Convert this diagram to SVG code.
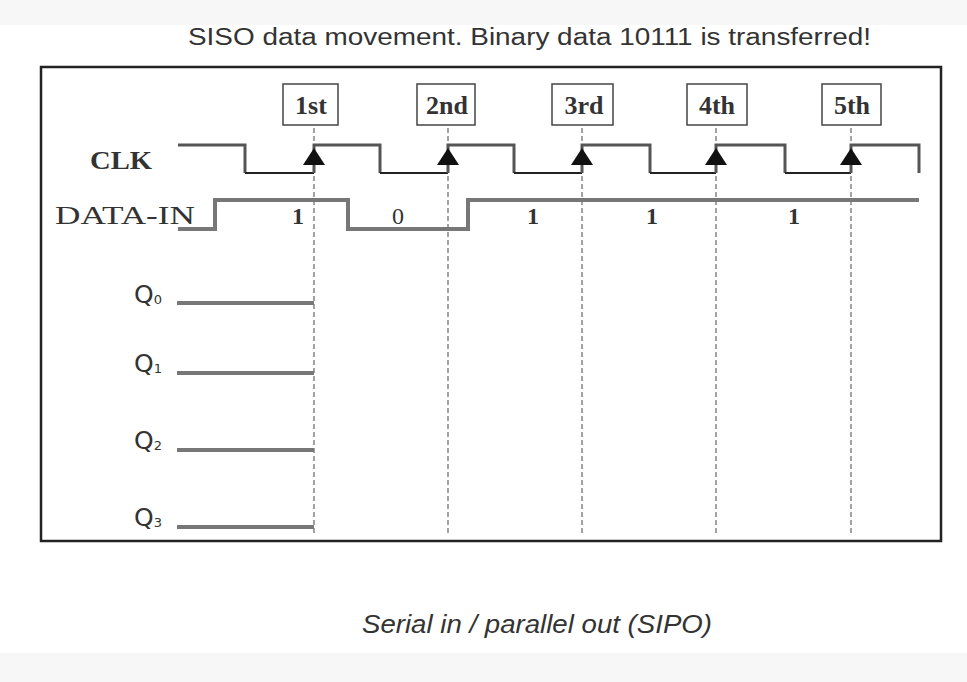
<svg xmlns="http://www.w3.org/2000/svg" width="967" height="682" viewBox="0 0 967 682">
<style>
.serif{font-family:"Liberation Serif","Times New Roman",serif;fill:#333}
.lbl{font-size:26px;font-weight:bold}
.sans{font-family:"Liberation Sans",Arial,sans-serif;fill:#333}
.qs{font-family:"DejaVu Sans",Verdana,sans-serif;fill:#333}
.clk{fill:none;stroke:#555;stroke-width:3}
.clklow{fill:none;stroke:#222;stroke-width:2}
.data{fill:none;stroke:#777;stroke-width:4}
.q{stroke:#777;stroke-width:4}
.dash{stroke:#666;stroke-width:1.2;stroke-dasharray:5 3}
.box{fill:#fff;stroke:#444;stroke-width:1.5}
.arr{fill:#111}
</style>
<rect width="967" height="682" fill="#fff"/>
<rect x="0" y="0" width="967" height="25" fill="#f7f7f7"/>
<rect x="0" y="653" width="967" height="29" fill="#f7f7f7"/>
<text class="sans" x="188" y="45" font-size="23" textLength="683" lengthAdjust="spacingAndGlyphs">SISO data movement. Binary data 10111 is transferred!</text>
<rect x="41" y="67" width="900" height="474" fill="#fff" stroke="#222" stroke-width="2.5"/>
<g id="connectors">
<line class="dash" x1="314" y1="128" x2="314" y2="533"/>
<line class="dash" x1="448" y1="128" x2="448" y2="533"/>
<line class="dash" x1="582" y1="128" x2="582" y2="533"/>
<line class="dash" x1="716" y1="128" x2="716" y2="533"/>
<line class="dash" x1="851" y1="128" x2="851" y2="533"/>
</g>
<g id="clk">
<text class="serif" x="90" y="169" font-size="25" font-weight="bold" textLength="62" lengthAdjust="spacingAndGlyphs">CLK</text>
<polyline class="clk" points="178,145 245,145 245,173"/>
<polyline class="clklow" points="245,173 314,173"/>
<polyline class="clk" points="314,173 314,145 380,145 380,173"/>
<polyline class="clklow" points="380,173 448,173"/>
<polyline class="clk" points="448,173 448,145 514,145 514,173"/>
<polyline class="clklow" points="514,173 582,173"/>
<polyline class="clk" points="582,173 582,145 650,145 650,173"/>
<polyline class="clklow" points="650,173 716,173"/>
<polyline class="clk" points="716,173 716,145 785,145 785,173"/>
<polyline class="clklow" points="785,173 851,173"/>
<polyline class="clk" points="851,173 851,145 919,145 919,173"/>
<polygon class="arr" points="314,148 303,165 325,165"/>
<polygon class="arr" points="448,148 437,165 459,165"/>
<polygon class="arr" points="582,148 571,165 593,165"/>
<polygon class="arr" points="716,148 705,165 727,165"/>
<polygon class="arr" points="851,148 840,165 862,165"/>
</g>
<g id="data-in">
<text class="serif" x="55" y="224" font-size="26" textLength="140" lengthAdjust="spacingAndGlyphs">DATA-IN</text>
<polyline class="data" points="178,229 215,229 215,200 348,200 348,229 468,229 468,200 919,200"/>
<text class="serif" x="298" y="224" font-size="24" font-weight="bold" text-anchor="middle">1</text>
<text class="serif" x="398" y="224" font-size="24" text-anchor="middle">0</text>
<text class="serif" x="533" y="224" font-size="24" font-weight="bold" text-anchor="middle">1</text>
<text class="serif" x="652" y="224" font-size="24" font-weight="bold" text-anchor="middle">1</text>
<text class="serif" x="794" y="224" font-size="24" font-weight="bold" text-anchor="middle">1</text>
</g>
<g id="pulse1"><rect class="box" x="283" y="84" width="55" height="41"/><text class="serif lbl" x="311" y="114" text-anchor="middle">1st</text></g>
<g id="pulse2"><rect class="box" x="417" y="84" width="58" height="41"/><text class="serif lbl" x="447" y="114" text-anchor="middle">2nd</text></g>
<g id="pulse3"><rect class="box" x="552" y="84" width="61" height="41"/><text class="serif lbl" x="584" y="114" text-anchor="middle">3rd</text></g>
<g id="pulse4"><rect class="box" x="687" y="84" width="60" height="41"/><text class="serif lbl" x="717" y="114" text-anchor="middle">4th</text></g>
<g id="pulse5"><rect class="box" x="822" y="84" width="59" height="41"/><text class="serif lbl" x="852" y="114" text-anchor="middle">5th</text></g>
<g id="q0"><text class="qs" x="134" y="303" font-size="25">Q<tspan font-size="13" dy="1">0</tspan></text><line class="q" x1="177" y1="303" x2="314" y2="303"/></g>
<g id="q1"><text class="qs" x="134" y="372" font-size="25">Q<tspan font-size="13" dy="1">1</tspan></text><line class="q" x1="177" y1="373" x2="314" y2="373"/></g>
<g id="q2"><text class="qs" x="134" y="449" font-size="25">Q<tspan font-size="13" dy="1">2</tspan></text><line class="q" x1="177" y1="450" x2="314" y2="450"/></g>
<g id="q3"><text class="qs" x="134" y="526" font-size="25">Q<tspan font-size="13" dy="1">3</tspan></text><line class="q" x1="177" y1="527" x2="314" y2="527"/></g>
<text class="sans" x="362" y="633" font-size="25" font-style="italic" fill="#222" textLength="350" lengthAdjust="spacingAndGlyphs">Serial in / parallel out (SIPO)</text>
</svg>
